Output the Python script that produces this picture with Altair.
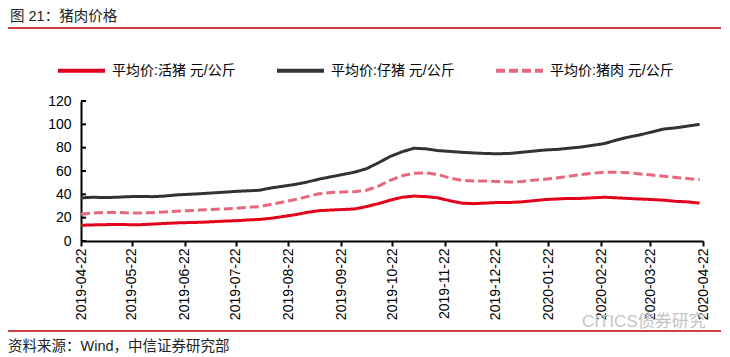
import altair as alt
import pandas as pd

# ---------------- data ----------------
title_text = "图 21：猪肉价格"
source_text = "资料来源：Wind，中信证券研究部"
watermark_text = "CITICS债券研究"

series_names = ["平均价:活猪 元/公斤", "平均价:仔猪 元/公斤", "平均价:猪肉 元/公斤"]

dates = pd.date_range("2019-04-22", periods=53, freq="7D")

live_hog = [13.5, 13.8, 14.0, 14.2, 14.0, 14.0, 14.5, 15.0, 15.5, 15.8,
            16.0, 16.5, 17.0, 17.4, 18.0, 18.5, 19.5, 21.0, 22.5, 24.5,
            26.0, 26.5, 27.0, 27.5, 29.5, 32.0, 35.0, 37.5, 38.5, 38.0,
            37.0, 34.5, 32.5, 32.0, 32.5, 33.0, 33.0, 33.5, 34.5, 35.5,
            36.0, 36.5, 36.5, 37.0, 37.5, 37.0, 36.5, 36.0, 35.5, 35.0,
            34.0, 33.5, 32.5]

piglet = [37.0, 37.5, 37.2, 37.5, 38.0, 38.2, 38.0, 38.5, 39.5, 40.0,
          40.5, 41.2, 41.8, 42.5, 43.0, 43.5, 45.5, 47.0, 48.5, 50.5,
          53.0, 55.0, 57.0, 59.0, 62.0, 67.0, 72.5, 76.5, 79.5, 79.0,
          77.5, 76.8, 76.0, 75.5, 75.0, 74.8, 75.0, 76.0, 77.0, 78.0,
          78.5, 79.5, 80.5, 82.0, 83.5, 86.5, 89.0, 91.0, 93.5, 96.0,
          97.0, 98.5, 100.0]

pork = [23.0, 24.0, 24.5, 24.5, 24.0, 24.0, 24.3, 24.8, 25.5, 26.0,
        26.5, 27.0, 27.5, 28.0, 28.8, 29.5, 31.5, 33.5, 35.5, 38.0,
        40.5, 41.5, 42.0, 42.3, 43.5, 47.0, 52.0, 56.0, 58.0, 58.5,
        57.0, 54.0, 52.0, 51.5, 51.5, 51.0, 50.5, 51.0, 52.0, 53.0,
        54.0, 55.5, 57.0, 58.0, 59.0, 59.0, 58.5, 57.5, 56.5, 55.5,
        54.5, 53.5, 52.5]

y_ticks = [0, 20, 40, 60, 80, 100, 120]
x_tick_months = [(2019, 4), (2019, 5), (2019, 6), (2019, 7), (2019, 8), (2019, 9),
                 (2019, 10), (2019, 11), (2019, 12), (2020, 1), (2020, 2), (2020, 3),
                 (2020, 4)]

# ---------------- build table ----------------
rows = []
for name, vals in zip(series_names, [live_hog, piglet, pork]):
    for d, v in zip(dates, vals):
        rows.append({"date": d, "series": name, "value": v})
df = pd.DataFrame(rows)

FONT = "Liberation Sans, Noto Sans CJK SC"
colors = ["#E3001B", "#333333", "#E6687C"]
dashes = [[1, 0], [1, 0], [9, 4]]

x_values = [alt.DateTime(year=y, month=m, date=22) for y, m in x_tick_months]

x_scale = alt.Scale(domain=[alt.DateTime(year=2019, month=4, date=22),
                            alt.DateTime(year=2020, month=4, date=22)], nice=False)
y_scale = alt.Scale(domain=[0, 120], nice=False)

y_axis = alt.Axis(values=y_ticks, labelFontSize=14, labelFont=FONT,
                  labelColor="#000", tickSize=0, domainColor="#000",
                  domainWidth=2, labelPadding=10, labelOverlap=False,
                  grid=False)

legend_kw = dict(title=None, orient="none", direction="horizontal",
                 legendX=-25, legendY=-56, symbolType="stroke",
                 symbolSize=2209, symbolStrokeWidth=4,
                 labelFontSize=14, labelFont=FONT,
                 labelColor="#000", labelOffset=5,
                 columnPadding=33, labelLimit=300)

lines = alt.Chart(df).mark_line(strokeWidth=3).encode(
    x=alt.X("date:T", scale=x_scale, title=None,
            axis=alt.Axis(values=x_values, format="%Y-%m-%d", labelAngle=270,
                          labelFontSize=14, labelFont=FONT, labelColor="#000",
                          tickSize=5, tickColor="#000", tickWidth=2,
                          domainColor="#000", domainWidth=2, labelPadding=2,
                          labelOverlap=False, grid=False)),
    y=alt.Y("value:Q", scale=y_scale, title=None, axis=y_axis),
    color=alt.Color("series:N", sort=series_names,
                    scale=alt.Scale(domain=series_names, range=colors),
                    legend=alt.Legend(**legend_kw)),
    strokeDash=alt.StrokeDash("series:N", sort=series_names,
                              scale=alt.Scale(domain=series_names, range=dashes),
                              legend=alt.Legend(**legend_kw)),
)

tick_df = pd.DataFrame({"v": y_ticks})
inner_ticks = alt.Chart(tick_df).mark_rule(color="#000", strokeWidth=2).encode(
    x=alt.value(0), x2=alt.value(5),
    y=alt.Y("v:Q", scale=y_scale, title=None, axis=y_axis)
)

one = alt.Data(values=[{"a": 1}])

title_mark = alt.Chart(one).mark_text(align="left", baseline="middle", fontSize=14.5,
                                      font=FONT, color="#222").encode(
    x=alt.value(-71), y=alt.value(-84), text=alt.value(title_text))

source_mark = alt.Chart(one).mark_text(align="left", baseline="middle", fontSize=14.5,
                                       font=FONT, color="#222").encode(
    x=alt.value(-73), y=alt.value(246), text=alt.value(source_text))

watermark = alt.Chart(one).mark_text(align="left", baseline="middle", fontSize=17,
                                     font=FONT, color="#c4c4c4").encode(
    x=alt.value(501), y=alt.value(221), text=alt.value(watermark_text))

top_rule = alt.Chart(one).mark_rule(color="#C00000", strokeWidth=1.5).encode(
    x=alt.value(-73), x2=alt.value(640), y=alt.value(-73))
bottom_rule = alt.Chart(one).mark_rule(color="#C00000", strokeWidth=1.5).encode(
    x=alt.value(-73), x2=alt.value(640), y=alt.value(230))

chart = alt.layer(
    top_rule, bottom_rule, watermark, lines, inner_ticks, title_mark, source_mark
).properties(
    width=622, height=140,
    padding={"left": 81, "top": 101, "right": 27, "bottom": 116},
    autosize=alt.AutoSizeParams(type="none"),
    background="white",
).configure_view(stroke=None)

chart.save("out.html", embed_options={"renderer": "svg", "actions": False})
